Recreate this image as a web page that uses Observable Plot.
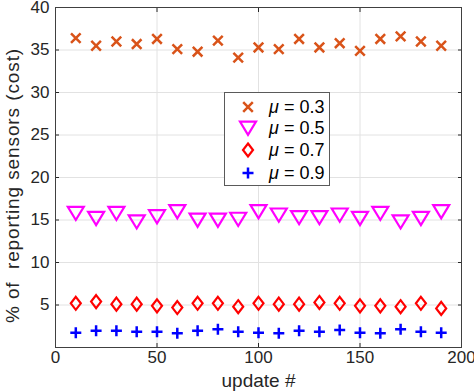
<!DOCTYPE html>
<html><head><meta charset="utf-8">
<script src="https://cdn.jsdelivr.net/npm/d3@7"></script>
<script src="https://cdn.jsdelivr.net/npm/@observablehq/plot@0.6"></script>
<style>
body{margin:0;background:#fff;}
#wrap{position:relative;width:474px;height:391px;font-family:"Liberation Sans",Arial,sans-serif;}
#legend{position:absolute;left:224px;top:92px;width:106px;height:94px;border:1px solid #5a5a5a;background:#fff;box-sizing:border-box;}
.row{position:absolute;left:0;width:100%;height:22px;font-size:18px;color:#000;}
.row svg{position:absolute;left:12px;top:0;}
.row span{position:absolute;left:44px;top:1px;line-height:20px;white-space:nowrap;}
</style></head>
<body><div id="wrap"><div id="plot"></div><div id="legend"></div></div>
<script>
const updates = [10,20,30,40,50,60,70,80,90,100,110,120,130,140,150,160,170,180,190];
const mu03 = [36.4,35.5,36.0,35.7,36.3,35.1,34.8,36.1,34.1,35.3,35.1,36.3,35.3,35.8,34.9,36.3,36.6,36.0,35.5];
const mu05 = [15.8,15.2,15.8,14.8,15.4,16.0,15.0,15.0,15.1,16.0,15.6,15.3,15.3,15.6,15.2,15.8,14.8,15.2,16.0];
const mu07 = [5.2,5.4,5.1,5.1,4.9,4.7,5.2,5.2,4.8,5.2,5.1,5.1,5.3,5.2,4.9,4.9,4.8,5.2,4.6];
const mu09 = [1.75,1.98,1.98,1.86,1.86,1.67,1.98,2.14,1.86,1.75,1.67,1.98,1.86,2.06,1.75,1.67,2.14,1.86,1.75];
const seriesNames = ["\u03bc = 0.3","\u03bc = 0.5","\u03bc = 0.7","\u03bc = 0.9"];
const seriesColors = ["#D95319","#FF00FF","#FF0000","#0000FF"];
const xTicks = [0,50,100,150,200];
const yTicks = [5,10,15,20,25,30,35,40];
const xLabel = "update #";
const yLabel = "% of\u00a0 reporting sensors (cost)";

const rad = s => Math.sqrt(s / Math.PI);
const symTimes = {draw(c, s){const r = rad(s); c.moveTo(-r,-r); c.lineTo(r,r); c.moveTo(-r,r); c.lineTo(r,-r);}};
const symTri = {draw(c, s){const r = rad(s); c.moveTo(-r,-r*0.8); c.lineTo(r,-r*0.8); c.lineTo(0,r*0.85); c.closePath();}};
const symDia = {draw(c, s){const r = rad(s); c.moveTo(0,-r*1.3); c.lineTo(r,0); c.lineTo(0,r*1.3); c.lineTo(-r,0); c.closePath();}};
const symPlus = {draw(c, s){const r = rad(s); c.moveTo(-r,0); c.lineTo(r,0); c.moveTo(0,-r); c.lineTo(0,r);}};
const syms = [symTimes, symTri, symDia, symPlus];
const radii = [4.8, 8, 5, 5.5];
const widths = [2.5, 2.2, 2.2, 2.5];
const allSeries = [mu03, mu05, mu07, mu09];

const dotMarks = allSeries.map((vals, i) => Plot.dot(updates.map((u, j) => ({u, v: vals[j]})), {
  x: "u", y: "v", symbol: syms[i], r: radii[i], stroke: seriesColors[i], fill: "none", strokeWidth: widths[i]
}));

const chart = Plot.plot({
  width: 474, height: 391,
  marginLeft: 55, marginRight: 13, marginTop: 7, marginBottom: 44,
  style: {fontSize: "17px", fontFamily: "Liberation Sans, Arial, sans-serif", color: "#262626", background: "white", overflow: "visible"},
  x: {domain: [0, 200]},
  y: {domain: [0, 40]},
  marks: [
    Plot.gridX(xTicks, {stroke: "#e2e2e2", strokeOpacity: 1}),
    Plot.gridY(yTicks, {stroke: "#e2e2e2", strokeOpacity: 1}),
    Plot.axisX(xTicks, {anchor: "bottom", tickSize: -4, tickPadding: 7, label: null}),
    Plot.axisY(yTicks, {anchor: "left", tickSize: -4, tickPadding: 10, label: null}),
    Plot.axisX(xTicks, {anchor: "top", tickSize: -4, tickFormat: () => "", label: null}),
    Plot.axisY(yTicks, {anchor: "right", tickSize: -4, tickFormat: () => "", label: null}),
    Plot.text([xLabel], {frameAnchor: "bottom", textAnchor: "middle", lineAnchor: "middle", dy: 33, fontSize: 19, fill: "#262626"}),
    Plot.text([yLabel], {frameAnchor: "left", textAnchor: "middle", lineAnchor: "middle", rotate: -90, dx: -43, dy: 8, fontSize: 19, fill: "#262626"}),
    Plot.frame({stroke: "#404040"}),
    ...dotMarks
  ]
});
d3.select(chart).selectAll("text").filter(function() { return this.textContent === yLabel; })
  .attr("letter-spacing", "0.9px");
document.getElementById("plot").appendChild(chart);

const legend = document.getElementById("legend");
const rowTops = [3, 24, 46, 69];
seriesNames.forEach((name, i) => {
  const row = document.createElement("div");
  row.className = "row";
  row.style.top = rowTops[i] + "px";
  const svg = d3.create("svg").attr("width", 22).attr("height", 22);
  const p = d3.path();
  syms[i].draw(p, radii[i] * radii[i] * Math.PI);
  svg.append("path").attr("transform", "translate(11,11)").attr("d", p.toString())
    .attr("fill", "none").attr("stroke", seriesColors[i]).attr("stroke-width", widths[i]);
  row.appendChild(svg.node());
  const span = document.createElement("span");
  span.innerHTML = "<i>\u03bc</i>" + name.slice(1);
  row.appendChild(span);
  legend.appendChild(row);
});
</script>
</body></html>
